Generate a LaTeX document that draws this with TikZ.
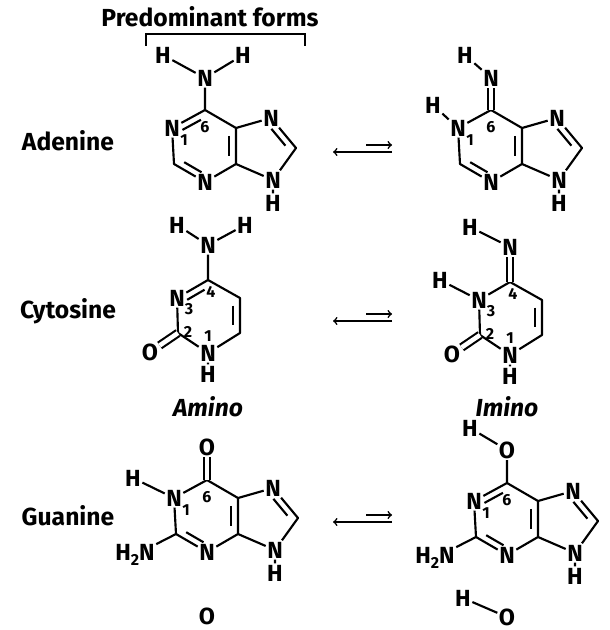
\documentclass[tikz,border=0pt]{standalone}
\usepackage{fontspec}
\setmainfont{Fira Sans}
\usetikzlibrary{calc}
\tikzset{
 atm/.style={font=\bfseries\fontsize{17.5}{18}\selectfont, inner sep=1pt},
 num/.style={font=\bfseries\fontsize{12}{12}\selectfont, inner sep=0pt},
 ttl/.style={font=\bfseries\fontsize{18.5}{19}\selectfont, inner sep=0pt},
 bond/.style={line width=1.6pt},
 exo/.style={double, double distance=3.4pt, line width=1.6pt},
 eqarr/.style={line width=1.2pt, -to}
}
\newcommand\dbl[2]{\path ($(#1)!0.22!(#2)$) coordinate (tmpa) ($(#2)!0.22!(#1)$) coordinate (tmpb);
 \draw[bond] ($(tmpa)!5pt!-90:(tmpb)$) -- ($(tmpb)!5pt!90:(tmpa)$);}
\newcommand\purine[1]{
 \coordinate (#1c6) at (0,0); \coordinate (#1c5) at (31,18); \coordinate (#1c4) at (31,54);
 \node[atm] (#1n3) at (0,72) {N}; \coordinate (#1c2) at (-31,54); \node[atm] (#1n1) at (-33,18) {N};
 \node[atm] (#1n7) at (66,8) {N}; \coordinate (#1c8) at (91,38); \node[atm] (#1n9) at (68,70) {N};
 \node[atm] (#1h9) at (68,93) {H};
 \node[num] (#1l1) at (-21,30) {1}; \node[num] (#1l6) at (0,17) {6};
 \draw[bond,line join=round] (#1c6)--(#1c5)--(#1c4)--(#1n3)--(#1c2)--(#1n1)--(#1c6) (#1c5)--(#1n7)--(#1c8)--(#1n9)--(#1c4) (#1n9)--(#1h9);
 \dbl{#1c5}{#1c4} \dbl{#1n7}{#1c8} \dbl{#1n3}{#1c2}
}
\newcommand\pyr[1]{
 \coordinate (#1c4) at (0,0); \coordinate (#1c5) at (32,18); \coordinate (#1c6) at (32,53);
 \node[atm] (#1n1) at (0,73) {N}; \coordinate (#1c2) at (-30,53); \node[atm] (#1n3) at (-31,18) {N};
 \node[atm] (#1o2) at (-58,72) {O}; \node[atm] (#1h1) at (0,94) {H};
 \node[num] (#1l1) at (0,56) {1}; \node[num] (#1l2) at (-20,52) {2}; \node[num] (#1l3) at (-19,29) {3};
 \node[num] (#1l4) at (3,12) {4};
 \draw[bond,line join=round] (#1c4)--(#1c5)--(#1c6)--(#1n1)--(#1c2)--(#1n3)--(#1c4) (#1n1)--(#1h1);
 \draw[exo] (#1c2)--(#1o2);
 \dbl{#1c5}{#1c6}
}
\begin{document}
\begin{tikzpicture}[x=0.75pt,y=-0.75pt]
\useasboundingbox (0,0) rectangle (609,630);
% titles
\node[ttl] (title) at (210,17) {Predominant forms};
\draw[line width=1.7pt] (146,46) -- (146,34) -- (305,34) -- (305,46);
\node[ttl] (ad) at (68,141) {Adenine};
\node[ttl] (cy) at (68,311) {Cytosine};
\node[ttl] (gu) at (68,516) {Guanine};
\node[ttl,font=\bfseries\itshape\fontsize{18.5}{19}\selectfont] (amino) at (208,407) {Amino};
\node[ttl,font=\bfseries\itshape\fontsize{18.5}{19}\selectfont] (imino) at (507,407) {Imino};
% adenine left
\begin{scope}[shift={(205,110)}]
 \purine{A}
 \node[atm] (Anx) at (0,-32) {N}; \node[atm] (Aha) at (-42,-55) {H}; \node[atm] (Ahb) at (38,-55) {H};
 \draw[bond] (Ac6)--(Anx) (Anx)--(Aha) (Anx)--(Ahb);
 \dbl{An1}{Ac6}
\end{scope}
% adenine right
\begin{scope}[shift={(491,110)}]
 \purine{B}
 \node[atm] (Bnx) at (0,-32) {N}; \node[atm] (Bha) at (-26,-55) {H}; \node[atm] (Bhn) at (-58,-5) {H};
 \draw[exo] (Bc6)--(Bnx);
 \draw[bond] (Bnx)--(Bha) (Bn1)--(Bhn);
\end{scope}
% cytosine left
\begin{scope}[shift={(208,280)}]
 \pyr{C}
 \node[atm] (Cnx) at (0,-35) {N}; \node[atm] (Cha) at (-31,-55) {H}; \node[atm] (Chb) at (37,-55) {H};
 \draw[bond] (Cc4)--(Cnx) (Cnx)--(Cha) (Cnx)--(Chb);
 \dbl{Cn3}{Cc4}
\end{scope}
% cytosine right
\begin{scope}[shift={(510,282)}]
 \pyr{D}
 \node[atm] (Dnx) at (0,-35) {N}; \node[atm] (Dha) at (-40,-55) {H}; \node[atm] (Dhn) at (-70,-2) {H};
 \draw[exo] (Dc4)--(Dnx);
 \draw[bond] (Dnx)--(Dha) (Dn3)--(Dhn);
\end{scope}
% guanine left
\begin{scope}[shift={(207,480)}]
 \purine{E}
 \node[atm] (Eo) at (0,-33) {O}; \node[atm] (Ehn) at (-74,-2) {H};
 \node[atm] (Enh) at (-72,75) {H\raisebox{-4pt}{\fontsize{12}{12}\selectfont 2}N};
 \draw[exo] (Ec6)--(Eo);
 \draw[bond] (En1)--(Ehn) (Ec2)--(Enh);
 \node[atm] (Eob) at (0,136) {O};
\end{scope}
% guanine right
\begin{scope}[shift={(507,483)}]
 \purine{F}
 \node[atm] (Fo) at (0,-33) {O}; \node[atm] (Fho) at (-37,-55) {H};
 \node[atm] (Fnh) at (-72,75) {H\raisebox{-4pt}{\fontsize{12}{12}\selectfont 2}N};
 \draw[bond] (Fc6)--(Fo) (Fo)--(Fho) (Fc2)--(Fnh);
 \dbl{Fn1}{Fc6}
 \node[atm] (Fhb) at (-44,115) {H}; \node[atm] (Fob) at (0,134) {O};
 \draw[bond] (Fhb)--(Fob);
\end{scope}
% equilibrium arrows
\foreach \n/\y in {a/152,c/321,g/522}{
 \coordinate (\n L0) at (392,\y); \coordinate (\n L1) at (333,\y);
 \coordinate (\n R0) at (366,\y-7); \coordinate (\n R1) at (392,\y-7);
 \draw[eqarr] (\n L0) -- (\n L1);
 \draw[eqarr] (\n R0) -- (\n R1);
}
\end{tikzpicture}
\end{document}
